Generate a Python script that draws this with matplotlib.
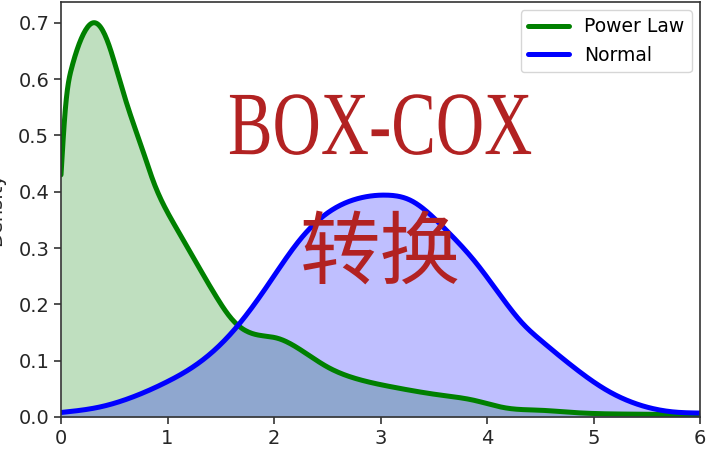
import matplotlib
matplotlib.use("Agg")
import matplotlib.pyplot as plt
import numpy as np
from matplotlib.patheffects import AbstractPathEffect
import matplotlib.transforms as mtrans

# ---- data ----
power_x = [0.0, 0.04, 0.10, 0.21, 0.30, 0.38, 0.46, 0.54, 0.62, 0.70, 0.77, 0.87,
           0.99, 1.15, 1.31, 1.46, 1.59, 1.68, 1.84, 2.03, 2.21, 2.50, 2.81, 3.12,
           3.56, 3.87, 4.18, 4.50, 4.81, 5.44, 6.0]
power_y = [0.43, 0.545, 0.62, 0.68, 0.70, 0.69, 0.655, 0.605, 0.555, 0.51, 0.472, 0.417,
           0.367, 0.314, 0.261, 0.213, 0.177, 0.160, 0.146, 0.140, 0.124, 0.089, 0.066, 0.053,
           0.039, 0.030, 0.016, 0.012, 0.008, 0.005, 0.004]

normal_x = [0.0, 0.37, 0.68, 0.99, 1.24, 1.46, 1.65, 1.93, 2.24, 2.50, 2.81, 3.06,
            3.28, 3.59, 3.90, 4.18, 4.34, 4.50, 4.81, 5.12, 5.44, 5.75, 6.0]
normal_y = [0.008, 0.018, 0.036, 0.062, 0.089, 0.122, 0.160, 0.231, 0.314, 0.362, 0.389, 0.394,
            0.385, 0.337, 0.273, 0.202, 0.165, 0.137, 0.089, 0.048, 0.021, 0.009, 0.007]

series_labels = ["Power Law", "Normal"]
series_colors = ["green", "blue"]
x_ticks = [0, 1, 2, 3, 4, 5, 6]
y_ticks = [0.0, 0.1, 0.2, 0.3, 0.4, 0.5, 0.6, 0.7]
title_text = "BOX-COX"
sub_text = "转换"


class Squeeze(AbstractPathEffect):
    """Scale rendered text horizontally about its centre."""
    def __init__(self, sx=1.0, sy=1.0):
        super().__init__()
        self.sx, self.sy = sx, sy

    def draw_path(self, renderer, gc, tpath, affine, rgbFace=None):
        v = affine.transform(tpath.vertices)
        if len(v):
            cx = (v[:, 0].min() + v[:, 0].max()) / 2
            cy = (v[:, 1].min() + v[:, 1].max()) / 2
        else:
            cx = cy = 0
        extra = mtrans.Affine2D().translate(-cx, -cy).scale(self.sx, self.sy).translate(cx, cy)
        renderer.draw_path(gc, tpath, affine + extra, rgbFace)


def spline(xs, ys, n=600):
    """Natural cubic spline through the points, for smooth drawing."""
    x = np.asarray(xs, float); y = np.asarray(ys, float)
    N = len(x); h = np.diff(x)
    A = np.zeros((N, N)); b = np.zeros(N)
    A[0, 0] = A[-1, -1] = 1
    for i in range(1, N - 1):
        A[i, i - 1] = h[i - 1]; A[i, i] = 2 * (h[i - 1] + h[i]); A[i, i + 1] = h[i]
        b[i] = 6 * ((y[i + 1] - y[i]) / h[i] - (y[i] - y[i - 1]) / h[i - 1])
    M = np.linalg.solve(A, b)
    xx = np.linspace(x[0], x[-1], n)
    k = np.clip(np.searchsorted(x, xx) - 1, 0, N - 2)
    t1 = x[k + 1] - xx; t0 = xx - x[k]; hk = h[k]
    yy = (M[k] * t1**3 + M[k + 1] * t0**3) / (6 * hk) \
        + (y[k] / hk - M[k] * hk / 6) * t1 + (y[k + 1] / hk - M[k + 1] * hk / 6) * t0
    return xx, np.clip(yy, 0, None)


fig = plt.figure(figsize=(7.2, 4.59), dpi=100)
ax = fig.add_axes([61 / 720, 42 / 459, 639 / 720, 415 / 459])

for xs, ys, lab, col in [(power_x, power_y, series_labels[0], series_colors[0]),
                         (normal_x, normal_y, series_labels[1], series_colors[1])]:
    xx, yy = spline(xs, ys)
    ax.fill_between(xx, yy, 0, color=col, alpha=0.25, linewidth=0)
    ax.plot(xx, yy, color=col, lw=3.6, label=lab, solid_capstyle="round")

ax.set_xlim(0, 6)
ax.set_ylim(0, 0.737)
ax.set_xticks(x_ticks)
ax.set_yticks(y_ticks)
ax.set_xticklabels([str(t) for t in x_ticks])
ax.set_yticklabels([f"{t:.1f}" for t in y_ticks])
ax.tick_params(labelsize=14, length=5, width=1.2, colors="#333333", labelcolor="#262626")
for s in ax.spines.values():
    s.set_color("#333333")
    s.set_linewidth(1.2)

ax.set_ylabel("Density", fontsize=14, color="#262626")
ax.yaxis.set_label_coords(-0.088, 0.5)
ax.set_xlabel("Transformed Value", fontsize=14, color="#262626")
ax.xaxis.set_label_coords(0.5, -0.1)

leg = ax.legend(loc="upper right", fontsize=13.5, frameon=True, borderaxespad=0.42,
                handlelength=2.2, fancybox=True, framealpha=0.8)
leg.get_frame().set_edgecolor("#cccccc")

ax.text(3.0, 0.467, title_text, fontsize=65, color="#b22222", ha="center", va="baseline",
        family="Liberation Serif", path_effects=[Squeeze(0.74)])
ax.text(3.0, 0.288, sub_text, fontsize=58, color="#b22222", ha="center", va="center",
        family=["Noto Sans CJK SC", "DejaVu Sans"], weight="light")

fig.savefig("out.png", dpi=100)
